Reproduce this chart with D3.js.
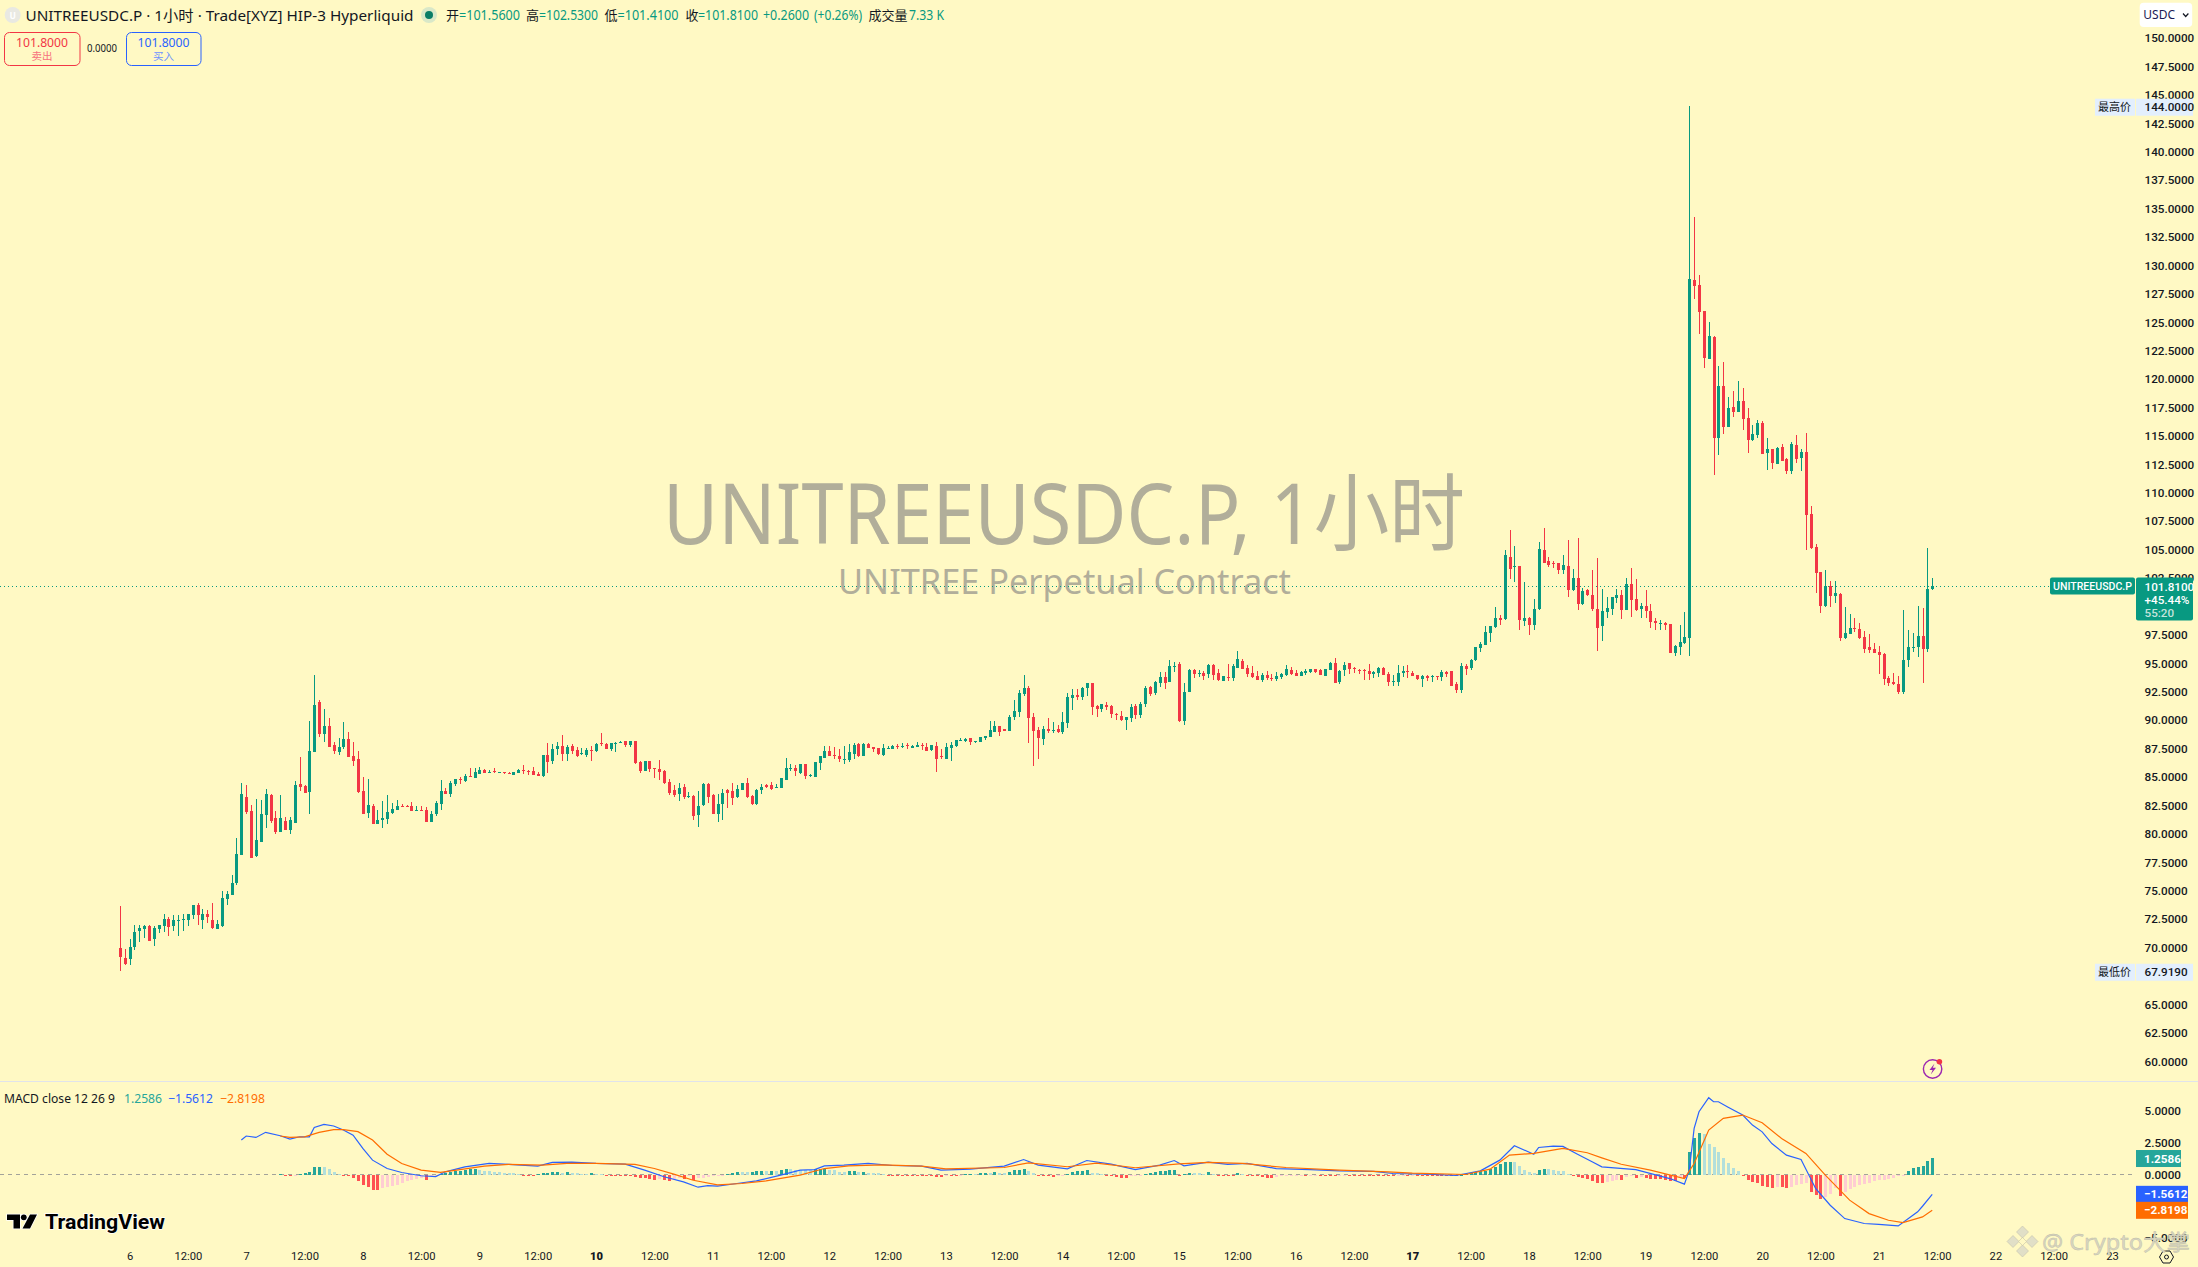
<!DOCTYPE html>
<html>
<head>
<meta charset="utf-8">
<title>UNITREEUSDC.P</title>
<script src="https://cdnjs.cloudflare.com/ajax/libs/d3/7.8.5/d3.min.js"></script>
<style>
  html, body { margin: 0; padding: 0; background: #fff9c4; }
  svg { display: block; }
  text { font-family: Roboto, "Noto Sans CJK SC", sans-serif; }
  .noto { font-family: "Noto Sans", "Noto Sans CJK SC", sans-serif; }
</style>
</head>
<body>
<div id="chart"></div>
<script>
// hours are counted from day 6 00:00, first candle is 22:00 of day 5
var firstHour = -2;
var opens = [
69.96,69.08,69.0,70.05,71.46,71.63,71.89,70.75,71.63,71.89,
72.51,71.89,72.34,72.42,72.42,72.86,73.74,72.42,72.95,72.42,
71.63,71.89,74.27,74.62,75.68,78.14,83.24,82.01,78.05,79.28,
81.66,83.42,81.39,80.16,81.13,80.34,80.95,84.38,84.21,83.68,
87.2,91.6,88.78,89.49,87.81,87.2,87.64,88.34,86.85,86.58,
83.77,81.83,82.45,80.87,81.22,81.31,81.83,82.1,82.45,82.45,
82.45,82.01,82.1,82.1,81.04,81.75,82.63,83.77,83.5,84.38,
84.82,84.65,85.09,84.91,85.26,85.62,85.35,85.53,85.35,85.44,
85.35,85.18,85.35,85.62,85.53,85.53,85.26,85.09,86.94,86.41,
87.46,87.73,87.02,87.73,87.38,87.02,86.94,87.38,87.29,87.99,
87.9,87.46,87.9,87.99,88.17,87.81,88.17,86.32,85.53,86.41,
85.79,85.7,85.53,84.56,83.86,83.5,84.12,83.24,83.33,81.66,
82.54,84.38,83.42,81.75,82.63,83.86,83.77,83.24,83.86,84.47,
83.33,82.63,83.86,84.3,84.3,84.03,84.03,84.74,85.7,85.79,
85.35,86.14,85.09,85.0,86.23,86.67,87.29,86.94,86.85,86.5,
86.5,87.02,87.9,86.85,87.9,87.64,87.55,86.94,87.46,87.46,
87.73,87.64,87.81,87.55,87.64,87.81,87.64,87.38,87.73,86.85,
86.58,87.55,87.73,88.17,88.17,88.43,88.08,88.08,88.43,88.52,
88.96,89.49,89.22,89.05,90.28,90.72,92.3,92.83,90.28,89.14,
88.34,89.22,89.05,89.22,88.96,89.75,91.95,92.21,92.04,92.83,
93.27,91.25,90.98,91.33,91.25,90.54,90.37,90.01,90.19,91.25,
90.45,91.42,92.92,92.39,93.27,93.8,93.36,94.68,94.94,89.93,
92.48,94.41,94.06,94.15,94.06,94.85,94.15,93.44,93.8,93.71,
94.59,95.2,94.59,94.15,93.88,93.53,93.97,93.71,93.62,93.8,
93.97,94.41,94.15,93.88,94.15,94.24,94.5,94.41,93.88,94.41,
95.03,93.36,94.41,95.03,94.59,94.41,94.41,94.32,94.06,94.15,
94.59,94.06,93.36,93.36,94.15,94.32,94.15,93.97,93.62,93.88,
93.8,93.88,93.8,94.24,94.32,93.18,92.65,94.76,94.59,95.29,
96.35,96.61,97.67,98.2,98.99,98.9,104.36,103.48,103.56,98.73,
98.99,98.38,99.78,104.97,104.0,103.83,103.83,103.21,103.56,101.45,
102.51,100.22,101.45,101.01,99.78,98.29,99.52,99.78,100.75,101.01,
99.7,101.98,100.66,99.78,100.05,99.61,98.73,98.46,98.55,98.46,
95.91,96.44,96.79,97.23,128.72,128.28,126.0,121.77,123.71,114.82,
119.4,115.79,117.55,117.11,118.08,116.58,114.65,115.09,116.14,113.5,
113.85,112.54,114.03,112.98,111.92,114.21,113.06,113.59,108.13,105.23,
103.03,100.04,101.8,100.92,101.1,97.23,97.58,98.11,98.02,97.32,
96.44,96.26,96.0,95.82,93.71,93.36,93.18,92.48,95.29,96.35,
96.44,97.4,96.26,101.56];
var highs = [
73.65,69.87,70.75,71.98,71.98,71.98,71.98,71.89,71.98,72.95,
72.69,72.86,72.86,72.95,72.95,73.74,73.92,73.39,73.3,73.92,
72.42,74.97,74.97,76.38,79.64,84.47,84.3,82.54,83.06,82.98,
83.95,83.5,82.01,83.42,81.48,81.48,84.65,86.76,84.3,89.93,
93.97,91.77,90.98,90.19,88.08,88.43,89.84,88.96,88.08,87.29,
85.0,84.82,82.63,82.1,82.89,83.42,82.71,82.98,82.63,82.54,
82.8,82.45,82.45,82.36,82.01,82.89,84.74,84.03,84.65,84.82,
85.0,85.26,85.79,85.79,85.88,85.7,85.62,85.79,85.44,85.44,
85.44,85.44,85.7,86.06,85.62,85.88,85.44,86.94,87.99,87.9,
88.08,88.69,87.81,87.9,87.64,87.55,87.55,87.73,87.99,88.87,
87.99,87.99,88.08,88.17,88.17,88.17,88.17,86.41,86.41,86.41,
85.79,86.5,85.62,84.82,84.3,84.47,84.38,83.68,83.42,83.77,
84.47,84.47,83.5,83.5,83.95,83.95,84.47,84.3,84.47,84.91,
83.42,83.95,84.38,84.38,84.56,84.38,84.91,86.67,86.14,86.06,
86.14,86.14,85.26,86.32,86.85,87.73,87.73,87.64,87.46,87.73,
87.9,87.99,87.99,87.99,87.99,87.64,87.55,87.9,87.73,87.81,
87.9,87.99,87.99,87.81,88.08,87.99,87.99,87.81,88.08,87.46,
87.99,88.08,88.25,88.43,88.43,88.43,88.17,88.52,88.61,89.93,
89.93,89.49,89.22,90.45,91.77,92.65,93.97,93.0,90.63,89.4,
89.49,90.19,89.84,89.58,90.72,92.39,92.74,92.74,92.92,93.27,
93.27,91.33,91.42,91.6,91.33,90.63,90.81,90.28,91.42,91.42,
91.6,93.0,93.0,93.45,94.24,94.24,95.29,95.12,95.12,93.27,
94.5,94.5,94.41,94.32,94.94,94.94,94.5,93.88,94.94,94.94,
96.08,95.38,94.85,94.76,94.32,94.15,94.32,94.06,94.24,94.15,
94.85,94.68,94.41,94.32,94.5,94.5,94.5,94.5,94.5,95.12,
95.47,94.41,95.12,95.03,94.68,94.5,94.5,94.94,94.32,94.68,
94.68,94.24,93.97,94.85,94.76,94.85,94.32,93.97,93.97,93.97,
93.97,93.88,94.41,94.32,94.32,93.36,95.03,94.94,95.38,96.44,
96.88,98.28,98.28,99.96,99.26,104.97,106.73,105.32,103.56,102.16,
99.08,100.66,105.68,106.91,104.36,104.0,103.83,104.53,105.85,103.3,
106.03,101.63,101.54,103.21,104.27,101.54,100.84,100.84,101.54,101.45,
102.51,103.39,102.42,100.31,101.45,100.22,98.99,98.82,98.64,98.46,
96.62,98.38,99.52,144.0,134.26,129.16,126.0,125.03,123.79,121.16,
121.51,118.43,118.96,119.84,119.22,117.46,115.97,116.41,116.32,114.82,
113.85,114.03,114.29,113.06,114.47,115.09,113.85,115.26,108.84,105.5,
103.03,103.21,102.24,102.24,101.19,99.95,99.34,98.99,98.55,97.84,
97.58,96.79,96.52,95.91,93.89,94.15,93.89,99.69,97.93,97.67,
100.04,99.87,105.14,102.53];
var lows = [
67.92,68.47,68.47,69.78,70.49,70.84,70.58,70.14,71.28,71.37,
71.02,71.46,71.02,71.46,71.89,72.51,71.98,71.63,72.16,71.63,
71.63,71.81,73.74,74.62,75.5,78.14,81.75,77.88,77.96,79.28,
80.51,80.95,79.99,80.16,80.34,79.99,80.95,83.77,83.59,81.75,
87.2,88.52,88.08,87.64,87.02,86.94,87.46,86.76,85.97,83.59,
81.75,81.39,80.87,80.87,80.51,80.87,81.75,82.1,82.36,82.36,
82.01,82.01,82.01,81.04,81.04,81.57,82.1,83.5,83.24,84.21,
84.38,84.56,85.0,84.91,85.26,85.35,85.35,85.35,85.35,85.26,
85.26,85.18,85.35,85.26,85.18,85.18,85.09,85.0,85.35,86.14,
86.94,86.41,86.41,87.02,86.76,86.94,86.76,86.41,87.2,87.73,
87.46,87.29,87.2,87.99,87.64,87.64,86.14,85.35,85.53,85.44,
84.91,84.74,84.38,83.42,83.24,82.89,83.06,83.15,81.22,80.6,
82.45,82.71,81.75,81.04,81.22,82.27,82.54,83.15,83.86,83.15,
82.54,82.54,83.5,84.03,83.86,84.03,84.03,84.74,85.53,85.09,
85.26,84.82,85.0,85.0,85.62,86.67,86.85,86.58,86.32,86.14,
86.32,86.58,86.76,86.85,87.55,87.2,86.94,86.85,87.46,87.46,
87.46,87.55,87.46,87.55,87.64,87.38,87.29,87.29,85.44,86.58,
86.58,86.41,87.64,88.17,88.08,87.81,87.99,88.08,88.25,88.52,
88.96,88.61,89.05,89.05,90.01,90.28,92.13,87.99,85.97,86.58,
87.82,88.87,88.87,88.87,88.78,89.31,90.89,91.77,91.77,92.13,
90.45,90.28,90.72,90.89,90.19,90.01,89.93,89.14,89.84,90.1,
90.19,91.16,92.13,92.21,92.92,92.74,93.36,94.24,89.84,89.58,
92.48,93.71,93.8,93.53,93.71,93.53,93.44,93.44,93.44,93.44,
94.59,94.5,93.8,93.71,93.53,93.36,93.53,93.44,93.44,93.62,
93.88,93.97,93.88,93.88,93.97,94.15,94.15,93.97,93.88,94.41,
93.27,93.18,93.88,94.06,94.15,94.06,93.53,93.53,93.71,93.8,
93.97,93.0,93.0,93.0,93.8,93.71,93.88,93.53,92.92,93.44,
93.36,93.53,93.44,93.8,93.0,92.39,92.39,93.97,94.41,95.2,
96.0,96.61,96.88,98.11,98.38,98.82,102.42,102.16,97.94,98.29,
97.5,97.94,99.7,103.83,103.48,103.39,102.86,102.86,100.84,101.37,
99.7,100.14,100.93,99.61,96.09,96.97,98.99,99.26,100.31,98.9,
99.7,99.08,99.61,98.99,98.99,98.11,97.94,97.94,97.94,95.91,
95.65,95.74,96.71,95.65,127.05,123.97,120.98,121.77,111.57,113.33,
115.17,115.79,116.67,117.11,115.53,113.5,114.56,114.82,113.42,112.01,
112.1,112.54,112.8,111.66,111.66,112.62,111.92,104.97,105.06,101.19,
99.43,99.95,99.95,100.31,96.96,97.14,97.58,97.76,97.14,95.91,
95.91,95.91,94.06,93.09,93.0,93.09,92.3,92.3,94.68,96.0,
95.56,93.27,96.0,101.41];
var closes = [
69.17,68.55,70.05,71.37,71.72,71.89,70.58,71.72,71.98,72.51,
71.81,72.42,72.42,72.51,72.95,73.74,72.86,72.95,72.69,71.72,
72.07,74.36,74.71,75.68,78.23,83.5,81.92,77.88,79.46,81.75,
83.5,81.13,80.16,81.39,80.34,81.22,84.3,84.12,83.59,87.29,
91.33,88.78,89.49,87.64,87.29,87.64,88.34,86.76,86.41,83.68,
81.75,82.54,80.87,81.22,81.39,81.92,82.19,82.45,82.36,82.36,
82.01,82.1,82.01,81.04,81.75,82.71,83.77,83.5,84.47,84.82,
84.74,85.09,85.0,85.44,85.62,85.35,85.44,85.44,85.44,85.35,
85.26,85.44,85.62,85.53,85.44,85.18,85.09,86.94,86.32,87.46,
87.73,87.02,87.64,87.29,86.85,87.11,87.38,87.29,87.9,87.9,
87.46,87.99,87.99,88.08,87.81,88.17,86.23,85.53,86.41,85.7,
85.7,85.44,84.47,83.59,83.42,84.03,83.24,83.33,81.57,82.45,
84.38,83.24,81.75,82.63,83.59,83.59,83.15,83.95,84.47,83.24,
82.63,83.86,84.12,84.12,83.95,84.12,84.91,85.79,85.79,85.53,
86.14,85.09,85.18,86.32,86.85,87.29,86.85,86.85,86.58,86.58,
87.2,87.81,86.85,87.9,87.55,87.46,87.02,87.55,87.55,87.73,
87.64,87.73,87.73,87.73,87.81,87.73,87.29,87.81,86.58,86.76,
87.64,87.81,88.25,88.25,88.34,88.08,88.17,88.52,88.61,89.13,
89.49,88.96,89.05,90.28,90.81,92.39,92.83,90.19,89.05,88.43,
89.22,89.05,89.14,88.96,89.84,92.04,92.21,92.04,92.83,93.27,
91.16,90.98,91.42,91.16,90.54,90.45,90.01,90.28,91.16,90.45,
91.42,92.83,92.3,93.36,93.8,93.27,94.76,94.76,89.93,92.48,
94.41,94.06,94.15,93.88,94.85,93.97,93.53,93.88,93.71,94.76,
95.38,94.5,94.06,93.8,93.53,93.97,93.71,93.62,93.88,94.06,
94.5,94.06,93.88,94.24,94.32,94.5,94.24,93.97,94.5,95.03,
93.27,94.32,94.85,94.5,94.5,94.32,94.32,94.06,94.24,94.59,
93.97,93.36,93.44,94.15,94.32,94.24,93.88,93.62,93.88,93.71,
93.88,93.8,94.24,94.06,93.0,92.65,94.76,94.5,95.29,96.44,
96.7,97.75,98.28,98.99,98.82,104.53,103.3,103.56,98.82,98.99,
98.38,99.78,105.06,103.83,103.65,103.74,103.21,103.65,101.45,102.51,
100.22,101.37,101.01,99.78,98.11,99.61,99.87,100.84,101.01,99.7,
101.98,100.57,99.7,100.05,99.61,98.64,98.55,98.55,98.38,95.91,
96.53,96.88,97.32,128.81,128.19,125.91,121.86,123.79,114.82,119.4,
115.79,117.46,117.11,118.08,116.49,114.65,115.17,116.14,113.42,113.85,
112.62,113.94,112.8,111.92,114.3,112.98,113.59,108.05,105.14,102.94,
100.04,101.8,100.92,101.19,97.23,97.67,98.11,98.02,97.23,96.26,
96.17,95.91,95.73,93.62,93.27,93.18,92.48,95.29,96.44,96.44,
97.4,96.26,101.54,101.81];

// MACD pane
var macdHours = [23,24,26,28,31,33,35,37,38,40,42,44,46,48,50,53,56,60,63,65,69,74,78,84,87,91,96,102,106,110,114,117,119,121,125,129,134,138,141,143,147,152,157,163,167,173,180,184,187,193,197,202,207,212,215,217,222,226,230,236,243,249,256,260,267,273,278,282,285,289,290,293,295,298,301,303,310,317,320,321,322,323,325,326,327,329,332,334,336,338,341,344,347,350,353,357,360,364,368,369,371];
var macdValues = [2.71,3.03,2.92,3.32,3.05,2.79,2.97,2.97,3.71,3.95,3.82,3.5,3.1,2.05,1.13,0.47,0.16,-0.1,-0.16,0.21,0.6,0.87,0.79,0.66,0.95,0.97,0.87,0.82,0.34,-0.18,-0.58,-1.0,-0.87,-0.92,-0.71,-0.5,-0.05,0.34,0.39,0.68,0.74,0.87,0.71,0.66,0.34,0.42,0.66,1.18,0.74,0.45,1.1,0.82,0.39,0.74,1.1,0.68,0.97,0.79,0.87,0.47,0.39,0.29,0.24,0.08,0.03,-0.08,0.29,1.13,2.26,1.6,2.13,2.24,2.21,1.6,1.0,0.6,0.39,-0.32,-0.76,0.34,3.63,4.94,6.05,5.73,5.73,5.3,4.68,3.89,3.36,2.44,1.52,1.18,-1.1,-2.42,-3.47,-3.86,-3.92,-4.05,-2.94,-2.5,-1.56];
var signalHours = [31,33,36,39,42,44,47,50,53,56,60,64,68,73,78,85,90,96,104,108,112,116,121,126,131,138,143,148,155,163,168,180,185,193,199,207,216,222,229,238,249,259,264,275,280,284,289,295,300,303,307,313,320,322,325,328,332,336,340,345,349,354,358,362,365,369,371];
var signalValues = [3.03,2.92,2.97,3.32,3.53,3.53,3.37,2.71,1.6,0.87,0.34,0.16,0.39,0.66,0.79,0.74,0.87,0.87,0.79,0.47,0.03,-0.45,-0.82,-0.71,-0.5,-0.05,0.47,0.68,0.76,0.66,0.45,0.55,0.92,0.61,0.89,0.53,0.84,0.95,0.87,0.55,0.34,0.21,0.11,0,0.42,1.53,1.66,2.05,1.71,1.31,0.81,0.34,-0.32,0.87,3.5,4.42,4.68,4.07,2.84,1.66,-0.05,-2.02,-3.08,-3.6,-3.79,-3.34,-2.82];
var histFirstHour = 31;
var histValues = [
.05,-.1,-.15,-.05,.05,.12,.2,.6,.62,.6,.45,.2,.05,-.03,-.1,-.25,-.5,-.8,-1.0,-1.2,
-1.22,-1.1,-1.0,-.9,-.8,-.65,-.55,-.45,-.35,-.3,-.45,-.15,-.05,.05,.15,.2,.25,.3,.35,.4,
.42,.32,.3,.28,.22,.18,.15,.12,.1,.03,-.03,-.06,-.1,.05,.1,.15,.18,.2,.15,.2,
.12,.08,.03,.03,.08,.06,.02,-.02,-.03,-.05,-.05,-.08,-.12,-.2,-.25,-.3,-.35,-.4,-.35,-.45,
-.5,-.45,-.3,-.35,-.15,-.45,-.3,-.25,-.22,-.15,-.12,-.03,.05,.1,.2,.18,.18,.2,.28,.3,
.28,.3,.3,.32,.42,.42,.35,.35,.35,.35,.4,.42,.45,.38,.32,.22,.2,.28,.3,.18,
.2,.12,.1,.08,.05,-.03,-.05,-.05,-.05,-.05,-.05,-.05,-.07,-.1,-.12,-.2,-.2,-.07,-.07,-.07,
-.05,.03,.05,.05,.1,.12,.12,.18,.15,.13,.2,.32,.38,.45,.3,.08,-.03,-.1,-.15,-.18,
-.15,-.1,.03,.2,.25,.3,.35,.15,.1,.05,-.05,-.1,-.2,-.25,-.28,-.15,-.12,-.05,.03,.15,
.2,.28,.3,.35,.38,-.02,.05,.12,.12,.12,.05,.2,.05,-.02,-.05,-.05,-.07,.08,.03,-.05,
-.08,-.1,-.2,-.25,-.25,-.18,-.15,-.12,-.1,-.08,-.05,-.05,-.03,-.02,-.02,-.05,-.07,-.12,-.05,-.03,
-.03,-.03,-.05,-.05,-.05,-.05,-.07,-.08,-.12,-.12,-.05,-.03,-.03,-.02,-.02,-.02,-.02,-.02,-.02,-.02,
-.02,-.02,-.03,0,.05,.1,.2,.25,.3,.45,.6,.8,.95,1.0,.97,.63,.38,.2,.12,.35,
.42,.42,.33,.3,.28,.03,-.05,-.2,-.3,-.35,-.55,-.65,-.65,-.58,-.52,-.45,-.45,-.2,-.15,-.3,
-.2,-.3,-.33,-.33,-.35,-.45,-.55,-.55,-.3,-.3,1.8,2.9,3.3,3.2,2.4,2.2,1.8,1.3,.9,.5,
.25,-.05,-.4,-.6,-.7,-.9,-1.0,-1.1,-.95,-1.0,-1.1,-.95,-.85,-.75,-.7,-1.4,-1.6,-1.9,-1.8,-1.5,
-1.1,-1.7,-1.35,-1.15,-.95,-.85,-.72,-.65,-.55,-.45,-.4,-.33,-.27,-.15,-.02,.3,.5,.6,.7,1.1,1.26];

// 67.5 and 100 are fully under the tags in the reference so they are left out
var priceTicks = d3.range(60, 150.1, 2.5).filter(function(p) { return p !== 67.5 && p !== 100; });
var macdTicks = [-5, 0, 2.5, 5];
var timeTicks = d3.range(0, 409, 12);
var boldDays = [10, 17];
var lastPrice = 101.81, highPrice = 144, lowPrice = 67.919;

var upColor = "#089981", downColor = "#f23645";
var width = 2198, height = 1267;

var svg = d3.select("#chart").append("svg")
  .attr("width", width)
  .attr("height", height)
  .style("background", "#fff9c4");

var x = d3.scaleLinear().domain([0, 408]).range([129.6, 2112]);
var y = d3.scaleLinear().domain([60, 150]).range([1061.3, 38]);
var yMacd = d3.scaleLinear().domain([-5, 5]).range([1238, 1111]);

// small helper for all the loose labels
function label(str, px, py, o) {
  o = o || {};
  var t = svg.append("text")
    .attr("x", px).attr("y", py)
    .attr("dy", "0.35em")
    .attr("font-size", o.size || 12)
    .attr("fill", o.fill || "#131722")
    .attr("text-anchor", o.anchor || "start")
    .text(str);
  if (o.noto) t.attr("class", "noto");
  if (o.weight) t.attr("font-weight", o.weight);
  if (o.len) t.attr("textLength", o.len).attr("lengthAdjust", "spacingAndGlyphs");
  return t;
}

// watermark
label("UNITREEUSDC.P, 1小时", 663, 515, {size: 84, fill: "#b1ae9a", len: 802, noto: true});
label("UNITREE Perpetual Contract", 838, 582, {size: 35, fill: "#b1ae9a", len: 453, noto: true});

// last price dotted line
svg.append("line")
  .attr("x1", 0).attr("x2", 2050)
  .attr("y1", Math.round(y(lastPrice)) + 0.5).attr("y2", Math.round(y(lastPrice)) + 0.5)
  .attr("stroke", upColor).attr("stroke-dasharray", "1 3");

// candles
var candles = opens.map(function(o, i) {
  return {hour: firstHour + i, o: o, h: highs[i], l: lows[i], c: closes[i]};
});
var candle = svg.append("g").attr("class", "candles").attr("shape-rendering", "crispEdges")
  .selectAll("g").data(candles).enter().append("g")
  .attr("fill", function(d) { return d.c >= d.o ? upColor : downColor; });
candle.append("rect")
  .attr("x", function(d) { return Math.round(x(d.hour)); })
  .attr("width", 1)
  .attr("y", function(d) { return y(d.h); })
  .attr("height", function(d) { return Math.max(1, y(d.l) - y(d.h)); });
candle.append("rect")
  .attr("x", function(d) { return Math.round(x(d.hour)) - 1; })
  .attr("width", 3)
  .attr("y", function(d) { return y(Math.max(d.o, d.c)); })
  .attr("height", function(d) { return Math.max(1, Math.abs(y(d.o) - y(d.c))); });

// price axis
var priceAxis = svg.append("g")
  .attr("transform", "translate(2144.5,0)")
  .call(d3.axisRight(y).tickValues(priceTicks).tickSize(0).tickPadding(0).tickFormat(function(d) { return d.toFixed(4); }));
priceAxis.select(".domain").remove();
priceAxis.selectAll("text").attr("font-size", 11.7).attr("font-weight", 500).attr("fill", "#131722");

// pane separator
svg.append("line").attr("x1", 0).attr("x2", width).attr("y1", 1081.5).attr("y2", 1081.5).attr("stroke", "#e0e3eb");

// macd zero line
svg.append("line")
  .attr("x1", 0).attr("x2", 2135)
  .attr("y1", yMacd(0)).attr("y2", yMacd(0))
  .attr("stroke", "#a3a39a").attr("stroke-dasharray", "4 4");

// histogram, colours follow the sign and the direction like the MACD study does
svg.append("g").attr("shape-rendering", "crispEdges")
  .selectAll("rect").data(histValues).enter().append("rect")
  .attr("x", function(d, i) { return Math.round(x(histFirstHour + i)) - 1; })
  .attr("width", 3)
  .attr("y", function(d) { return Math.min(yMacd(d), yMacd(0)); })
  .attr("height", function(d) { return Math.max(1, Math.abs(yMacd(d) - yMacd(0))); })
  .attr("fill", function(d, i) {
    var prev = i ? histValues[i - 1] : 0;
    if (d >= 0) return prev < d ? "#26a69a" : "#b2dfdb";
    return prev < d ? "#ffcdd2" : "#ff5252";
  });

var macdLine = d3.line()
  .x(function(d) { return x(d[0]); })
  .y(function(d) { return yMacd(d[1]); });
svg.append("path").datum(d3.zip(macdHours, macdValues))
  .attr("d", macdLine).attr("fill", "none").attr("stroke", "#2962ff").attr("stroke-width", 1.2);
svg.append("path").datum(d3.zip(signalHours, signalValues))
  .attr("d", macdLine).attr("fill", "none").attr("stroke", "#ff6d00").attr("stroke-width", 1.2);

// macd axis
var macdAxis = svg.append("g")
  .attr("transform", "translate(2144.5,0)")
  .call(d3.axisRight(yMacd).tickValues(macdTicks).tickSize(0).tickPadding(0).tickFormat(function(d) { return d.toFixed(4).replace("-", "−"); }));
macdAxis.select(".domain").remove();
macdAxis.selectAll("text").attr("font-size", 11.7).attr("font-weight", 500).attr("fill", "#131722");

// time axis
var timeAxis = svg.append("g")
  .attr("transform", "translate(0,1256)")
  .call(d3.axisBottom(x).tickValues(timeTicks).tickSize(0).tickPadding(0).tickFormat(function(h) {
    return h % 24 === 0 ? String(6 + h / 24) : "12:00";
  }));
timeAxis.select(".domain").remove();
timeAxis.selectAll("text")
  .attr("font-size", 11.2).attr("fill", "#131722")
  .attr("y", 0).attr("dy", "0.35em")
  .attr("font-weight", function(h) { return boldDays.indexOf(6 + h / 24) >= 0 ? 900 : 400; });

// high / low tags on the price axis
function priceTag(name, value) {
  var py = y(value) + 1;
  svg.append("rect").attr("x", 2095).attr("y", py - 8.5).attr("width", 40).attr("height", 17).attr("fill", "#e3effd");
  svg.append("rect").attr("x", 2136).attr("y", py - 8.5).attr("width", 57).attr("height", 17).attr("fill", "#e3effd");
  label(name, 2098, py, {size: 11});
  label(value.toFixed(4), 2144.5, py, {size: 11.7, weight: 500});
}
priceTag("最高价", highPrice);
priceTag("最低价", lowPrice);

// last price tags
var lastY = y(lastPrice);
svg.append("rect").attr("x", 2050).attr("y", lastY - 8.5).attr("width", 85).attr("height", 17).attr("rx", 2).attr("fill", upColor);
svg.append("rect").attr("x", 2136).attr("y", lastY - 8.5).attr("width", 57).attr("height", 43).attr("rx", 2).attr("fill", upColor);
label("UNITREEUSDC.P", 2053, lastY, {size: 11.5, fill: "#fff", len: 79, weight: 500});
label(lastPrice.toFixed(4), 2144.5, lastY + 1, {size: 11.7, fill: "#fff", weight: 500});
label("+45.44%", 2144.5, lastY + 14, {size: 11.7, fill: "#fff", weight: 500});
label("55:20", 2144.5, lastY + 27, {size: 11.7, fill: "#c4e4dc", weight: 500});

// macd tags on the axis
function macdTag(value, txt, color, w) {
  var py = yMacd(value);
  svg.append("rect").attr("x", 2136).attr("y", py - 8.5).attr("width", w).attr("height", 17).attr("fill", color);
  label(txt, 2144, py, {size: 11.7, fill: "#fff", weight: "bold"});
}
macdTag(1.2586, "1.2586", "#26a69a", 45);
macdTag(-1.5612, "−1.5612", "#2962ff", 52);
macdTag(-2.8198, "−2.8198", "#ff6d00", 52);

// header
svg.append("circle").attr("cx", 12.7).attr("cy", 15).attr("r", 8).attr("fill", "#e9e9e2");
label("U", 12.7, 15.5, {size: 9, fill: "#fff", anchor: "middle", weight: "bold"});
label("UNITREEUSDC.P · 1小时 · Trade[XYZ] HIP-3 Hyperliquid", 25.5, 15.5, {size: 15, len: 388, noto: true});
svg.append("circle").attr("cx", 429).attr("cy", 15).attr("r", 8).attr("fill", "#d9e8c8");
svg.append("circle").attr("cx", 429).attr("cy", 15).attr("r", 4).attr("fill", "#0a7d66");

var headerLabels = ["开", "高", "低", "收", "成交量"];
var headerLabelX = [446, 526, 604.6, 685.6, 868.6];
headerLabels.forEach(function(s, i) { label(s, headerLabelX[i], 15.5, {size: 13}); });
var headerValues = ["=101.5600", "=102.5300", "=101.4100", "=101.8100", "+0.2600", "(+0.26%)", "7.33 K"];
var headerValueX = [459, 539, 617.5, 698, 763, 814, 909];
var headerValueLen = [61, 59, 61, 60, 46, 48, 35];
headerValues.forEach(function(s, i) {
  label(s, headerValueX[i], 15.5, {size: 13.5, fill: upColor, len: headerValueLen[i], noto: true});
});

// buy / sell buttons
svg.append("rect").attr("x", 4.5).attr("y", 32.5).attr("width", 75.5).attr("height", 33).attr("rx", 5)
  .attr("fill", "none").attr("stroke", "#f23645");
label("101.8000", 42, 42, {size: 13, fill: "#f23645", anchor: "middle", len: 52, noto: true});
label("卖出", 42, 56.5, {size: 10.5, fill: "#f7717d", anchor: "middle"});
label("0.0000", 102, 48.7, {size: 10.5, anchor: "middle", len: 30, noto: true});
svg.append("rect").attr("x", 126.5).attr("y", 32.5).attr("width", 74.5).attr("height", 33).attr("rx", 5)
  .attr("fill", "none").attr("stroke", "#2962ff");
label("101.8000", 163.5, 42, {size: 13, fill: "#2962ff", anchor: "middle", len: 52, noto: true});
label("买入", 163.5, 56.5, {size: 10.5, fill: "#6d93ff", anchor: "middle"});

// currency box
svg.append("rect").attr("x", 2139.7).attr("y", 2.7).attr("width", 52.5).attr("height", 24.3).attr("rx", 4).attr("fill", "#fff");
label("USDC", 2143.3, 15, {size: 12, fill: "#1a1a55", noto: true});
svg.append("path").attr("d", "M2183 13.5 L2185.7 16.5 L2188.4 13.5").attr("fill", "none").attr("stroke", "#131722").attr("stroke-width", 1.2);

// macd legend
label("MACD close 12 26 9", 4, 1099, {size: 12.5, len: 111, noto: true});
label("1.2586", 124, 1099, {size: 12.5, fill: "#26a69a", len: 38, noto: true});
label("−1.5612", 168, 1099, {size: 12.5, fill: "#2962ff", len: 45, noto: true});
label("−2.8198", 220, 1099, {size: 12.5, fill: "#ff6d00", len: 45, noto: true});

// tradingview logo
var logo = svg.append("g").attr("fill", "#000").attr("stroke", "#fff").attr("stroke-width", 1.5).style("paint-order", "stroke");
logo.append("path").attr("d", "M7 1214.5 H20 V1228.5 H13.5 V1220 H7 Z");
logo.append("circle").attr("cx", 23.8).attr("cy", 1217.3).attr("r", 2.9);
logo.append("path").attr("d", "M30 1214.5 H37 L30 1228.5 H22.5 Z");
label("TradingView", 45, 1222, {size: 21, fill: "#000", weight: "bold", len: 120})
  .attr("stroke", "#fff").attr("stroke-width", 1.5).style("paint-order", "stroke");

// lightning badge
svg.append("circle").attr("cx", 1932.6).attr("cy", 1069).attr("r", 9.2).attr("fill", "none").attr("stroke", "#9c27b0").attr("stroke-width", 1.4);
svg.append("path").attr("d", "M1934.5 1063.5 L1929.5 1070 H1932.6 L1930.8 1074.5 L1936 1067.8 H1932.8 Z").attr("fill", "#9c27b0");
svg.append("circle").attr("cx", 1939.4).attr("cy", 1061.7).attr("r", 2.8).attr("fill", "#f23645");

// settings hexagon
svg.append("path").attr("d", "M2159.5 1257 L2163 1251 H2170 L2173.5 1257 L2170 1263 H2163 Z").attr("fill", "none").attr("stroke", "#131722");
svg.append("circle").attr("cx", 2166.5).attr("cy", 1257).attr("r", 2).attr("fill", "none").attr("stroke", "#131722");

// binance square stamp
var stamp = svg.append("g").attr("fill", "#e0dec8").attr("stroke", "#b9b7a5").attr("stroke-width", 0.5).attr("opacity", 0.95);
[[2022.5,1232],[2013,1241.5],[2032,1241.5],[2022.5,1251]].forEach(function(c) {
  stamp.append("path").attr("d", "M" + (c[0]-6) + " " + c[1] + " L" + c[0] + " " + (c[1]-6) + " L" + (c[0]+6) + " " + c[1] + " L" + c[0] + " " + (c[1]+6) + " Z");
});
stamp.append("path").attr("d", "M2018.5 1241.5 L2022.5 1237.5 L2026.5 1241.5 L2022.5 1245.5 Z").attr("fill", "#fff9c4");
label("@ Crypto大掌", 2042, 1242, {size: 22, fill: "#d8d6c0", len: 148, noto: true})
  .attr("stroke", "#bdbba8").attr("stroke-width", 0.4);
</script>
</body>
</html>
